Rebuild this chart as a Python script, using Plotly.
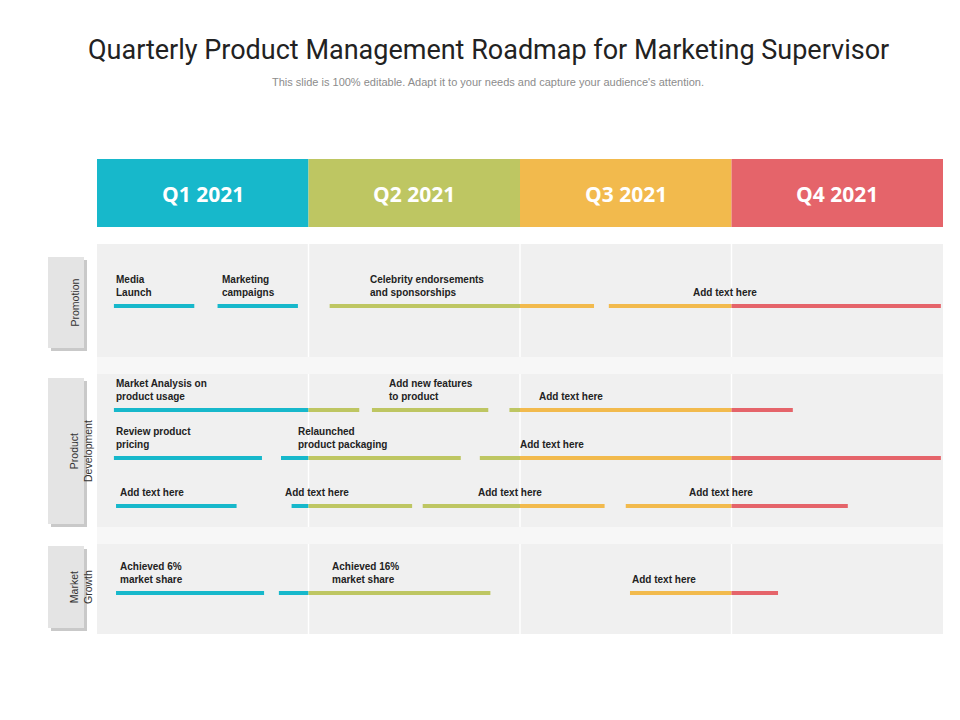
import plotly.graph_objects as go

# ---- data -------------------------------------------------------------
quarters = ["Q1 2021", "Q2 2021", "Q3 2021", "Q4 2021"]
quarter_colors = ["#17B8CB", "#BEC662", "#F2BA4D", "#E5646A"]
lanes = ["Promotion", "Product<br>Development", "Market<br>Growth"]

# each task: lane row key, start (quarters), end (quarters), label, label x
task_rows = ["p", "p", "p", "p",
             "d1", "d1", "d1",
             "d2", "d2", "d2",
             "d3", "d3", "d3", "d3",
             "g", "g", "g"]
task_start = [0.08, 0.57, 1.10, 2.42,
              0.08, 1.30, 1.95,
              0.08, 0.87, 1.81,
              0.09, 0.92, 1.54, 2.50,
              0.09, 0.86, 2.52]
task_end = [0.46, 0.95, 2.35, 3.99,
            1.24, 1.85, 3.29,
            0.78, 1.72, 3.99,
            0.66, 1.49, 2.40, 3.55,
            0.79, 1.86, 3.22]
task_labels = ["Media<br>Launch", "Marketing<br>campaigns", "Celebrity endorsements<br>and sponsorships", "Add text here",
               "Market Analysis on<br>product usage", "Add new features<br>to product", "Add text here",
               "Review product<br>pricing", "Relaunched<br>product packaging", "Add text here",
               "Add text here", "Add text here", "Add text here", "Add text here",
               "Achieved 6%<br>market share", "Achieved 16%<br>market share", "Add text here"]
label_x = [0.08, 0.58, 1.28, 2.81,
           0.08, 1.37, 2.08,
           0.08, 0.94, 1.99,
           0.10, 0.88, 1.79, 2.79,
           0.10, 1.10, 2.52]

# ---- layout helpers (pixels from top) ---------------------------------
row_y = {"p": 298, "d1": 402, "d2": 450, "d3": 498, "g": 585}
panels = [(236, 349), (366, 519), (536, 626)]
lane_boxes = [(249, 340), (370, 516), (538, 620)]

fig = go.Figure()
shapes, ann = [], []

# header blocks
for i, (q, c) in enumerate(zip(quarters, quarter_colors)):
    shapes.append(dict(type="rect", x0=i, x1=i + 1, y0=151, y1=219, fillcolor=c, line_width=0, layer="below"))
    ann.append(dict(x=i + 0.5, y=186, text="<b>" + q + "</b>", showarrow=False,
                    font=dict(size=21, color="white", family="Open Sans")))

# separating band and panels
shapes.append(dict(type="rect", x0=0, x1=4, y0=349, y1=366, fillcolor="#F7F7F7", line_width=0, layer="below"))
shapes.append(dict(type="rect", x0=0, x1=4, y0=519, y1=536, fillcolor="#F7F7F7", line_width=0, layer="below"))
for y0, y1 in panels:
    shapes.append(dict(type="rect", x0=0, x1=4, y0=y0, y1=y1, fillcolor="#F0F0F0", line_width=0, layer="below"))
    for i in range(1, 4):
        shapes.append(dict(type="line", x0=i, x1=i, y0=y0, y1=y1, line=dict(color="white", width=1.5), layer="below"))

# lane boxes
for lane, (y0, y1) in zip(lanes, lane_boxes):
    shapes.append(dict(type="rect", xref="paper", x0=43 / 960, x1=79 / 960, y0=y0 + 3, y1=y1 + 3,
                       fillcolor="#C9C9C9", line_width=0, layer="below"))
    shapes.append(dict(type="rect", xref="paper", x0=40 / 960, x1=76 / 960, y0=y0, y1=y1,
                       fillcolor="#E4E4E4", line_width=0, layer="below"))
    ann.append(dict(xref="paper", x=58 / 960, y=(y0 + y1) / 2, text=lane, textangle=-90, showarrow=False,
                    font=dict(size=10.5, color="#333333", family="Liberation Sans")))

# task bars, split at quarter borders so each piece takes its quarter colour
for r, s, e, lab, lx in zip(task_rows, task_start, task_end, task_labels, label_x):
    y = row_y[r]
    for qi in range(4):
        a, b = max(s, qi), min(e, qi + 1)
        if b > a:
            fig.add_trace(go.Scatter(x=[a, b], y=[y, y], mode="lines", hoverinfo="skip",
                                     line=dict(color=quarter_colors[qi], width=4)))
    ann.append(dict(x=lx, y=y - 6, text="<b>" + lab + "</b>", showarrow=False, xanchor="left",
                    yanchor="bottom", align="left", font=dict(size=10, color="#222222", family="Liberation Sans")))

ann.append(dict(xref="paper", x=0.5, y=42, text="Quarterly Product Management Roadmap for Marketing Supervisor",
                showarrow=False, font=dict(size=27, color="#222222", family="Liberation Sans Narrow, Roboto")))
ann.append(dict(xref="paper", x=0.5, y=74,
                text="This slide is 100% editable. Adapt it to your needs and capture your audience's attention.",
                showarrow=False, font=dict(size=11, color="#8C8C8C", family="Liberation Sans")))

px0, qw = 89, 211.5
fig.update_layout(
    width=960, height=720, margin=dict(l=0, r=0, t=0, b=0),
    plot_bgcolor="white", paper_bgcolor="white", showlegend=False,
    xaxis=dict(range=[-px0 / qw, (960 - px0) / qw], visible=False, fixedrange=True),
    yaxis=dict(range=[720, 0], visible=False, fixedrange=True),
    shapes=shapes, annotations=ann,
)
fig.write_html("out.html")
